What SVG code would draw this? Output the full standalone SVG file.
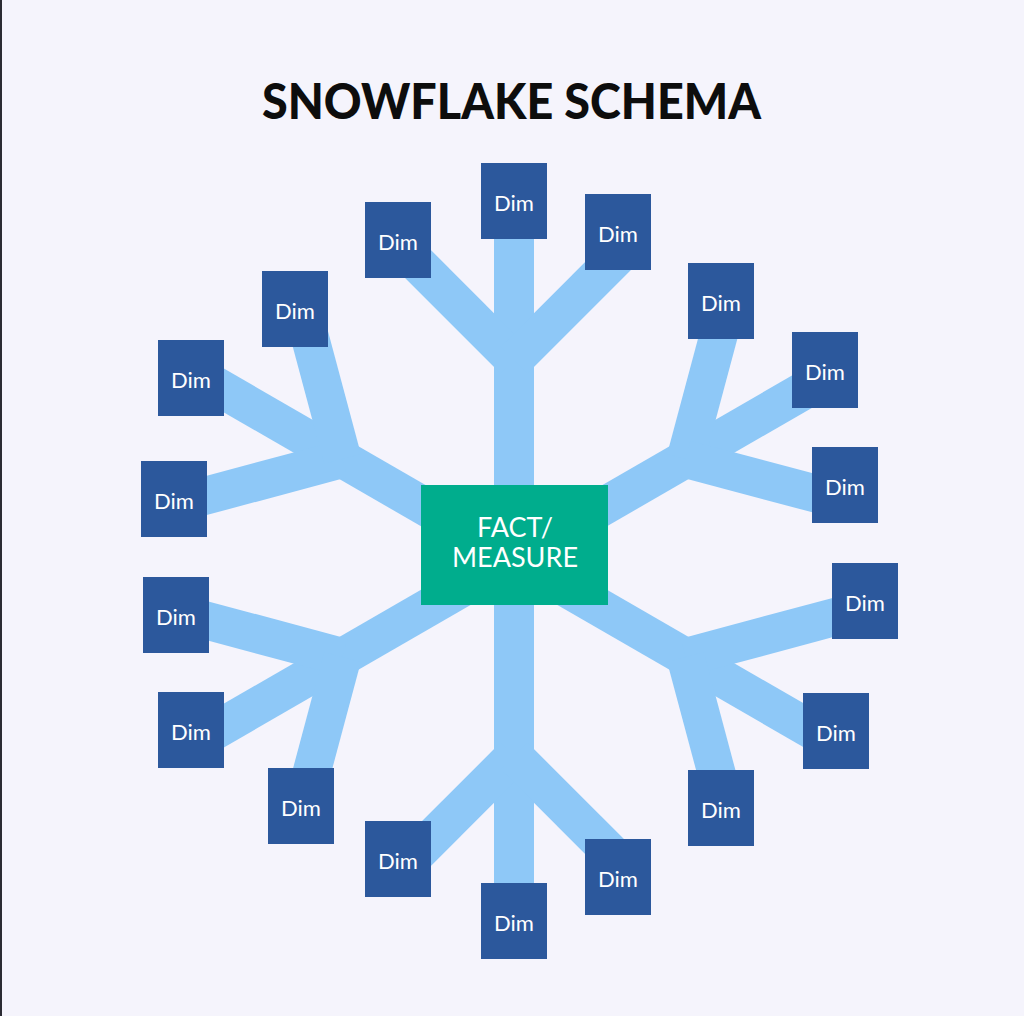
<svg xmlns="http://www.w3.org/2000/svg" width="1024" height="1016" viewBox="0 0 1024 1016">
  <style>
    .bg { fill: #f5f4fc; }
    .edge { fill: #2b2b33; }
    .arm { stroke: #8ec8f7; stroke-width: 38; stroke-linecap: butt; fill: none; }
    .trunk { stroke: #8ec8f7; stroke-width: 40; stroke-linecap: butt; fill: none; }
    .dim rect { fill: #2c589c; }
    .dim text { fill: #ffffff; font-family: Lato, "Open Sans", "Liberation Sans", sans-serif; font-size: 22px; text-anchor: middle; }
    .fact rect { fill: #00ad8d; }
    .fact text { fill: #ffffff; font-family: Lato, "Open Sans", "Liberation Sans", sans-serif; font-size: 27px; text-anchor: middle; }
    .title { fill: #0d0d0d; font-family: Lato, "Liberation Sans", sans-serif; font-weight: 900; font-size: 49px; }
  </style>
  <rect class="bg" x="0" y="0" width="1024" height="1016"/>
  <rect class="edge" x="0" y="0" width="2" height="1016"/>
  <text class="title" x="262" y="119" textLength="499" lengthAdjust="spacingAndGlyphs">SNOWFLAKE SCHEMA</text>

  <g id="connectors">
    <!-- top arm -->
    <line class="trunk" x1="514" y1="558" x2="514" y2="201"/>
    <line class="arm" x1="514" y1="360" x2="408" y2="254"/>
    <line class="arm" x1="514" y1="360" x2="620" y2="254"/>
    <!-- upper-right arm -->
    <line class="arm" x1="514" y1="558" x2="824" y2="379"/>
    <line class="arm" x1="685.5" y1="459" x2="724.3" y2="314"/>
    <line class="arm" x1="685.5" y1="459" x2="840" y2="500"/>
    <!-- lower-right arm -->
    <line class="arm" x1="514" y1="558" x2="824" y2="737"/>
    <line class="arm" x1="685.5" y1="657" x2="849.7" y2="613"/>
    <line class="arm" x1="685.5" y1="657" x2="724.3" y2="802"/>
    <!-- bottom arm -->
    <line class="trunk" x1="514" y1="558" x2="514" y2="921"/>
    <line class="arm" x1="514" y1="756" x2="408" y2="862"/>
    <line class="arm" x1="514" y1="756" x2="620" y2="862"/>
    <!-- lower-left arm -->
    <line class="arm" x1="514" y1="558" x2="204" y2="737"/>
    <line class="arm" x1="342.5" y1="657" x2="178.3" y2="613"/>
    <line class="arm" x1="342.5" y1="657" x2="303.7" y2="802"/>
    <!-- upper-left arm -->
    <line class="arm" x1="514" y1="558" x2="204" y2="379"/>
    <line class="arm" x1="342.5" y1="459" x2="178.3" y2="503"/>
    <line class="arm" x1="342.5" y1="459" x2="303.7" y2="314"/>
  </g>

  <g id="fact" class="fact">
    <rect x="421" y="485" width="187" height="120"/>
    <text x="515" y="537">FACT/</text>
    <text x="515" y="567">MEASURE</text>
  </g>

  <g id="dim1" class="dim"><rect x="481" y="163" width="66" height="76"/><text x="514" y="211">Dim</text></g>
  <g id="dim2" class="dim"><rect x="365" y="202" width="66" height="76"/><text x="398" y="250">Dim</text></g>
  <g id="dim3" class="dim"><rect x="585" y="194" width="66" height="76"/><text x="618" y="242">Dim</text></g>
  <g id="dim4" class="dim"><rect x="262" y="271" width="66" height="76"/><text x="295" y="319">Dim</text></g>
  <g id="dim5" class="dim"><rect x="158" y="340" width="66" height="76"/><text x="191" y="388">Dim</text></g>
  <g id="dim6" class="dim"><rect x="141" y="461" width="66" height="76"/><text x="174" y="509">Dim</text></g>
  <g id="dim7" class="dim"><rect x="688" y="263" width="66" height="76"/><text x="721" y="311">Dim</text></g>
  <g id="dim8" class="dim"><rect x="792" y="332" width="66" height="76"/><text x="825" y="380">Dim</text></g>
  <g id="dim9" class="dim"><rect x="812" y="447" width="66" height="76"/><text x="845" y="495">Dim</text></g>
  <g id="dim10" class="dim"><rect x="832" y="563" width="66" height="76"/><text x="865" y="611">Dim</text></g>
  <g id="dim11" class="dim"><rect x="803" y="693" width="66" height="76"/><text x="836" y="741">Dim</text></g>
  <g id="dim12" class="dim"><rect x="688" y="770" width="66" height="76"/><text x="721" y="818">Dim</text></g>
  <g id="dim13" class="dim"><rect x="585" y="839" width="66" height="76"/><text x="618" y="887">Dim</text></g>
  <g id="dim14" class="dim"><rect x="481" y="883" width="66" height="76"/><text x="514" y="931">Dim</text></g>
  <g id="dim15" class="dim"><rect x="365" y="821" width="66" height="76"/><text x="398" y="869">Dim</text></g>
  <g id="dim16" class="dim"><rect x="268" y="768" width="66" height="76"/><text x="301" y="816">Dim</text></g>
  <g id="dim17" class="dim"><rect x="158" y="692" width="66" height="76"/><text x="191" y="740">Dim</text></g>
  <g id="dim18" class="dim"><rect x="143" y="577" width="66" height="76"/><text x="176" y="625">Dim</text></g>
</svg>
